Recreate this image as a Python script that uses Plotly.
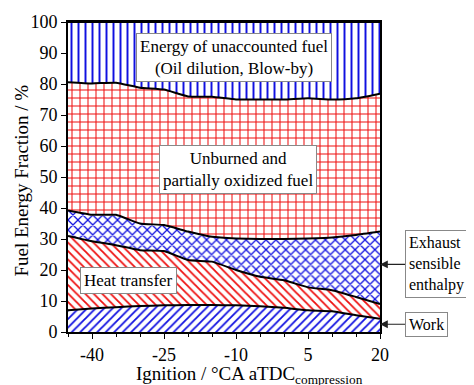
import plotly.graph_objects as go

# Ignition timing (°CA aTDC)
ignition = [-45, -40, -35, -30, -25, -20, -15, -10, -5, 0, 5, 10, 15, 20]
# Cumulative boundaries (% of fuel energy)
work_top = [7.0, 7.6, 8.0, 8.4, 8.6, 8.7, 8.7, 8.6, 8.3, 7.8, 7.0, 6.7, 5.4, 4.3]
heat_top = [31.0, 29.3, 28.0, 26.4, 26.1, 23.2, 22.7, 20.0, 17.8, 16.7, 14.4, 13.5, 11.3, 9.0]
exhaust_top = [39.2, 37.8, 37.8, 35.0, 34.5, 32.4, 30.7, 30.2, 30.0, 30.0, 30.2, 30.5, 31.3, 32.4]
unburned_top = [80.6, 80.2, 80.4, 78.8, 78.2, 76.0, 75.9, 75.0, 75.0, 75.0, 75.4, 75.0, 75.4, 76.9]
total_top = [100] * len(ignition)
base = [0] * len(ignition)

x_ticks = [-40, -25, -10, 5, 20]
x_ticklabels = ["-40", "-25", "-10", "5", "20"]

BLUE = "#1010e0"
RED = "#ee1010"
FONT = "Liberation Serif, Times New Roman, serif"

layers = [
    (work_top, "/", BLUE, 6, 0.3),
    (heat_top, "\\", RED, 6, 0.3),
    (exhaust_top, "x", BLUE, 7, 0.33),
    (unburned_top, "+", RED, 8, 0.24),
    (total_top, "|", BLUE, 7, 0.28),
]

fig = go.Figure()
fig.add_trace(go.Scatter(x=ignition, y=base, mode="lines",
                         line=dict(color="black", width=0), showlegend=False,
                         hoverinfo="skip"))
for vals, shape, col, sz, sol in layers:
    fig.add_trace(go.Scatter(
        x=ignition, y=vals, mode="lines", fill="tonexty",
        fillcolor="white",
        fillpattern=dict(shape=shape, fgcolor=col, bgcolor="white", fgopacity=1,
                         size=sz, solidity=sol, fillmode="replace"),
        line=dict(color="black", width=2, shape="spline", smoothing=0.4),
        showlegend=False, hoverinfo="skip"))

box = dict(bgcolor="white", bordercolor="#888888", borderwidth=1, borderpad=3,
           font=dict(family=FONT, size=17, color="black"), showarrow=False)

fig.add_annotation(x=-10.4, y=88.7, xref="x", yref="y",
                   text="Energy of unaccounted fuel<br>(Oil dilution, Blow-by)", **box)
fig.add_annotation(x=-9.6, y=52.3, xref="x", yref="y",
                   text="Unburned and<br>partially oxidized fuel", **box)
fig.add_annotation(x=-32.4, y=16.7, xref="x", yref="y",
                   text="Heat transfer", **box)

arrow = dict(bgcolor="white", bordercolor="#888888", borderwidth=1, borderpad=3,
             font=dict(family=FONT, size=16, color="black"), showarrow=True,
             arrowhead=2, arrowsize=1.3, arrowwidth=1.2, arrowcolor="#222222",
             standoff=0, xanchor="left")
fig.add_annotation(x=20, y=21.8, xref="x", yref="y", ax=25, ay=0,
                   text="Exhaust<br>sensible<br>enthalpy", align="left", **arrow)
fig.add_annotation(x=20, y=2.5, xref="x", yref="y", ax=25, ay=0,
                   text="Work", **arrow)

# axis titles as annotations (placed like the reference)
fig.add_annotation(x=-7.2, y=0, xref="x", yref="paper", xanchor="center",
                   yanchor="top", yshift=-29,
                   text="Ignition / °CA aTDC<sub>compression</sub>", showarrow=False,
                   font=dict(family=FONT, size=19, color="black"))
fig.add_annotation(x=-0.15, y=48.9, xref="paper", yref="y", textangle=-90,
                   xanchor="center", yanchor="middle",
                   text="Fuel Energy Fraction / %", showarrow=False,
                   font=dict(family=FONT, size=19, color="black"))

# the page body adds an 8px offset: compensate so the plot area lands at 68..380 x 22..332
fig.update_layout(
    width=466, height=377,
    margin=dict(l=60, r=94, t=14, b=53),
    plot_bgcolor="white", paper_bgcolor="white",
    font=dict(family=FONT, size=17, color="black"),
)
fig.update_xaxes(range=[-45, 20], tickvals=x_ticks, ticktext=x_ticklabels,
                 automargin=False,
                 showline=True, linecolor="black", linewidth=2, mirror=True,
                 ticks="outside", ticklen=5, tickcolor="black", showgrid=False,
                 zeroline=False,
                 minor=dict(tickvals=[-45, -35, -30, -20, -15, -5, 0, 10, 15],
                            ticks="outside", ticklen=3, tickcolor="black"),
                 tickfont=dict(family=FONT, size=18))
fig.update_yaxes(range=[0, 100], dtick=10, automargin=False,
                 showline=True, linecolor="black", linewidth=2, mirror=True,
                 ticks="outside", ticklen=5, tickcolor="black", showgrid=False,
                 zeroline=False,
                 tickfont=dict(family=FONT, size=18))

fig.write_html("out.html")
